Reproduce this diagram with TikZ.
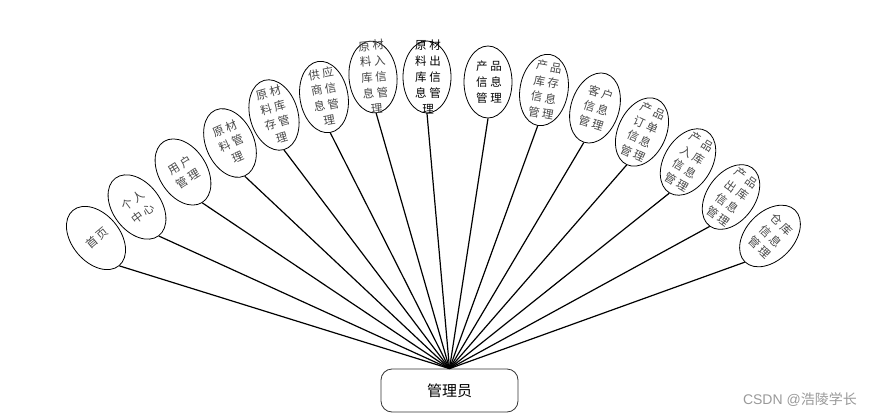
\documentclass[tikz,border=0pt]{standalone}
\usepackage{fontspec}
\setmainfont{Liberation Sans}
\newfontfamily\cjk{Noto Sans CJK SC}
\newfontfamily\cjkwide[LetterSpace=22]{Noto Sans CJK SC}
\usetikzlibrary{shapes.geometric}
\tikzset{
  oval/.style={draw=black, line width=0.8pt, ellipse, minimum width=48pt, minimum height=72pt, inner sep=0pt, fill=white},
  ovaltext/.style={align=center, font=\cjkwide\fontsize{11.5}{15.8}\selectfont, text=black!72, inner sep=0pt, xshift=1pt},
  link/.style={draw=black, line width=1.2pt},
  adminbox/.style={draw=black!80, line width=0.8pt, rounded corners=11pt, minimum width=137pt, minimum height=43pt, font=\cjk\fontsize{15}{18}\selectfont},
}
\begin{document}
\begin{tikzpicture}[x=1pt,y=-1pt]
\useasboundingbox (0,0) rectangle (873,420);
\node[adminbox] (admin) at (449.5,390.5) {管理员};
\foreach \n/\x/\y/\r/\t/\c in {
  1/96/238/40/{首页}/black!72,
  2/137/207/37/{个人\\中心}/black!72,
  3/183/172/32/{用户\\管理}/black!72,
  4/230/143/24/{原材\\料管\\理}/black!72,
  5/274/115/16/{原材\\料库\\存管\\理}/black!72,
  6/324/97/10/{供应\\商信\\息管\\理}/black!72,
  7/373/77/5/{原材\\料入\\库信\\息管\\理}/black!72,
  8/427/77/0/{原材\\料出\\库信\\息管\\理}/black,
  9/488/82/0/{产品\\信息\\管理}/black,
  10/544/90/-10/{产品\\库存\\信息\\管理}/black!72,
  11/595/108/-18/{客户\\信息\\管理}/black!72,
  12/642/132/-25/{产品\\订单\\信息\\管理}/black!72,
  13/688/162/-31/{产品\\入库\\信息\\管理}/black!72,
  14/731/197/-36/{产品\\出库\\信息\\管理}/black!72,
  15/770/236/-44/{仓库\\信息\\管理}/black!72}
{
  \node[oval, rotate=\r] (e\n) at (\x,\y) {};
  \node[ovaltext, rotate=\r, text=\c] (t\n) at (\x,\y) {\t};
  \draw[link] (e\n.south) -- (admin.north);
}
\node[font=\fontsize{14}{16}\selectfont, text=black!40, anchor=east, inner sep=0pt] (wm) at (857,400) {CSDN @{\cjk 浩陵学长}};
\end{tikzpicture}
\end{document}
